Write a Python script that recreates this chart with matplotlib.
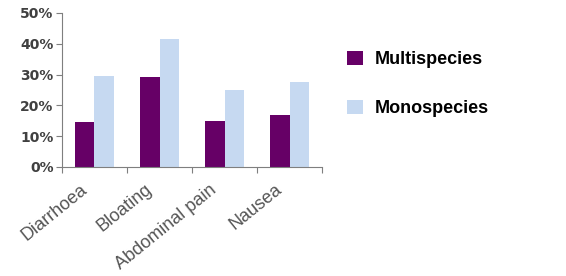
import numpy as np
import matplotlib.pyplot as plt
from matplotlib.ticker import PercentFormatter

categories = ["Diarrhoea", "Bloating", "Abdominal pain", "Nausea"]
multispecies = [14.6, 29.2, 14.9, 16.9]
monospecies = [29.4, 41.4, 25.0, 27.6]

c_multi = "#660066"
c_mono = "#c6d9f1"
axis_col = "#7f7f7f"

fig = plt.figure(figsize=(5.66, 2.76), dpi=100)
ax = fig.add_axes([0.1095, 0.395, 0.4595, 0.558])

x = np.arange(len(categories))
w = 0.3
ax.bar(x - w / 2, multispecies, w, color=c_multi, label="Multispecies")
ax.bar(x + w / 2, monospecies, w, color=c_mono, label="Monospecies")

ax.set_xlim(-0.5, len(categories) - 0.5)
ax.set_ylim(0, 50)
ax.set_yticks(np.arange(0, 51, 10))
ax.yaxis.set_major_formatter(PercentFormatter(decimals=0))

# x ticks sit on category boundaries; category names drawn as rotated text
ax.set_xticks(np.arange(-0.5, len(categories), 1.0))
ax.set_xticklabels([])
for i, cat in zip(x, categories):
    ax.annotate(cat, xy=(i, 0), xycoords=("data", "axes fraction"),
                xytext=(-15, -14), textcoords="offset pixels",
                rotation=39, ha="right", va="top", rotation_mode="anchor",
                fontsize=13, family="Liberation Sans", color="#555555")
ax.tick_params(axis="x", length=4, color=axis_col)
ax.tick_params(axis="y", length=4, color=axis_col, labelsize=10,
               labelcolor="#404040", pad=2)
for t in ax.get_yticklabels():
    t.set_fontweight("bold")

for s in ["top", "right"]:
    ax.spines[s].set_visible(False)
for s in ["left", "bottom"]:
    ax.spines[s].set_color(axis_col)

fig.legend(loc="upper left", bbox_to_anchor=(0.585, 0.875), frameon=False,
           prop={"family": "Liberation Sans", "size": 13, "weight": "bold"},
           labelspacing=1.75, handlelength=0.85, handleheight=0.85,
           handletextpad=0.65)

fig.savefig("out.png", dpi=100)
